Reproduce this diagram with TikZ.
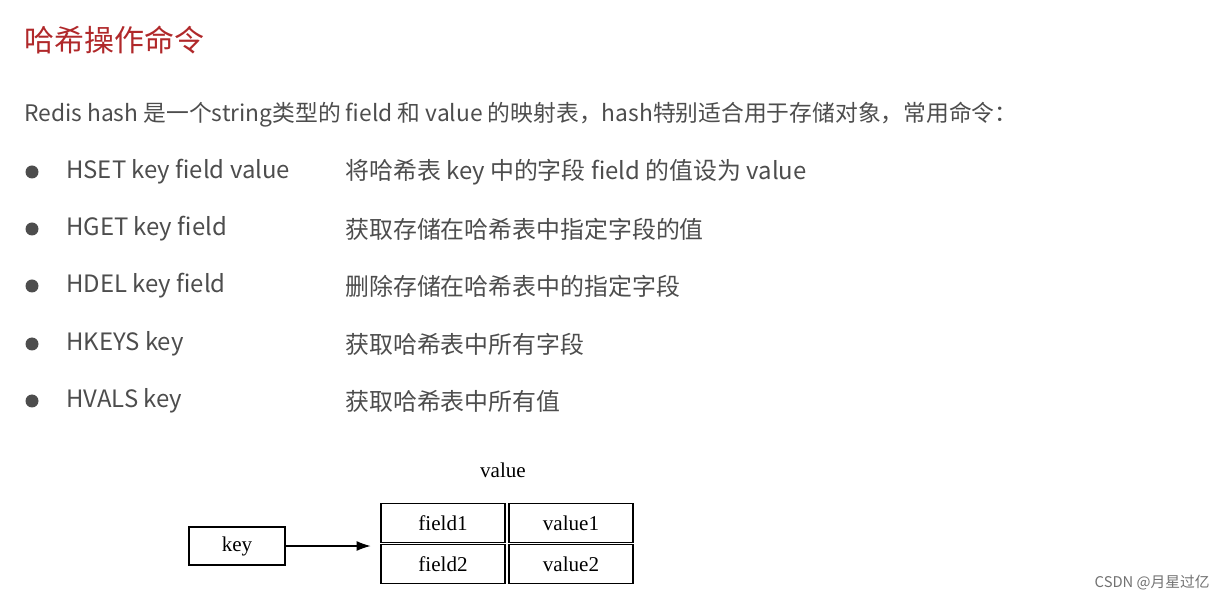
\documentclass[tikz,border=0pt]{standalone}
\usepackage{fontspec}
\setmainfont{Noto Sans CJK SC}
\newfontfamily\diagfont{Liberation Serif}
\usepackage{xcolor}
\usetikzlibrary{arrows.meta}
\definecolor{titlered}{HTML}{B0282A}
\definecolor{bodygray}{HTML}{4D4D4D}
\tikzset{
  cmdtext/.style={anchor=west, text=bodygray, font=\fontsize{17}{20}\selectfont, inner sep=0pt},
  cell/.style={draw, thick, minimum width=3.1cm, minimum height=0.98cm, font=\diagfont\fontsize{15}{17}\selectfont, inner sep=0pt},
  keybox/.style={draw, thick, minimum width=2.4cm, minimum height=0.95cm, font=\diagfont\fontsize{15}{17}\selectfont, inner sep=0pt},
}
\begin{document}
\begin{tikzpicture}[x=0.025cm, y=-0.025cm]
				% Frame:
				\useasboundingbox (0,0) rectangle (1224,602);
				\node[anchor=west, text=titlered, font=\fontsize{21.3}{24}\selectfont, inner sep=0pt] (title) at (24,40) {哈希操作命令};
				\node[cmdtext, font=\fontsize{16.2}{18}\selectfont] (intro) at (24,115) {Redis hash 是一个string类型的 field 和 value 的映射表，hash特别适合用于存储对象，常用命令：};
				% Command list:
				\foreach \y/\cmd/\desc [count=\i] in {172/HSET key field value/将哈希表 key 中的字段 field 的值设为 value,
				  229/HGET key field/获取存储在哈希表中指定字段的值,
				  286/HDEL key field/删除存储在哈希表中的指定字段,
				  344/HKEYS key/获取哈希表中所有字段,
				  401/HVALS key/获取哈希表中所有值}{
				  \fill[bodygray] (32,\y) circle (6.5);
				  \node[cmdtext] (cmd\i) at (66,\y) {\cmd};
				  \node[cmdtext] (desc\i) at (345,\y) {\desc};
				}
				% Hash diagram:
				\node[keybox] (key) at (237,546) {key};
				\node[cell] (field1) at (443,523) {field1};
				\node[cell] (value1) at (571,523) {value1};
				\node[cell] (field2) at (443,564) {field2};
				\node[cell] (value2) at (571,564) {value2};
				\node[font=\diagfont\fontsize{15}{17}\selectfont] (valuelabel) at (503,470) {value};
				\draw[thick, -{Latex[length=3.5mm, width=2.5mm]}] (key.east) -- ++(85,0) coordinate (tip);
				\node[anchor=east, text=bodygray!80, font=\fontsize{10.5}{12}\selectfont, inner sep=0pt] (mark) at (1210,583) {CSDN @月星过亿};
			\end{tikzpicture}
\end{document}
